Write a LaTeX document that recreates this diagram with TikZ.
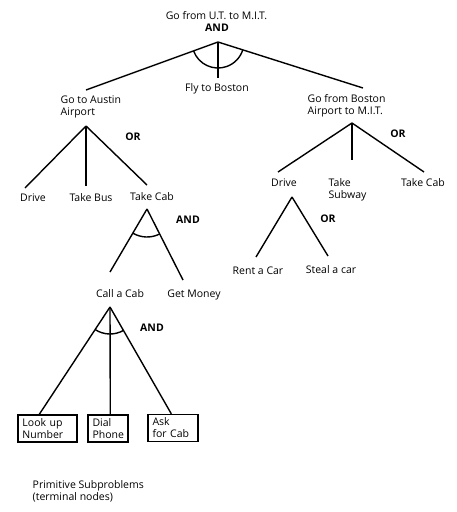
\documentclass[tikz,border=0pt]{standalone}
\usepackage{fontspec}
\setmainfont{Open Sans}
\usetikzlibrary{angles,calc}
\begin{document}
\begin{tikzpicture}[x=1pt,y=-1pt, line width=1.4pt,
  lbl/.style={inner sep=0pt, font=\fontsize{10.5}{12}\selectfont, anchor=base},
  lblL/.style={inner sep=0pt, font=\fontsize{10.5}{12}\selectfont, align=left, anchor=north west},
  gate/.style={lbl, font=\fontsize{10.5}{12}\selectfont\bfseries},
  leaf/.style={draw, line width=1.4pt, inner xsep=4.5pt, inner ysep=0pt, minimum height=27pt,
    font=\fontsize{10.5}{12}\selectfont, align=left, anchor=center},
  andarc/.style={draw, angle radius=26pt}
]
\useasboundingbox (0,0) rectangle (457,512);

% labels
\node[lbl] (root) at (216.5,19.5) {Go from U.T. to M.I.T.};
\node[gate] (rootand) at (217,31) {AND};
\node[lbl] (fly) at (217,91) {Fly to Boston};
\node[lblL] (austin) at (60,95.5) {Go to Austin\\Airport};
\node[lblL] (boston) at (307,93.5) {Go from Boston\\Airport to M.I.T.};
\node[gate] (aor) at (133,140) {OR};
\node[lbl] (drive) at (33,201) {Drive};
\node[lbl] (bus) at (91,201) {Take Bus};
\node[lbl] (cab) at (152,200) {Take Cab};
\node[gate] (cand) at (188,223) {AND};
\node[lbl] (call) at (120,297) {Call a Cab};
\node[lbl] (money) at (194,297) {Get Money};
\node[gate] (kand) at (152,331) {AND};
\node[leaf, text width=50pt] (lookup) at (47.5,428.5) {Look up\\Number};
\node[leaf, text width=31pt] (dial) at (108,428.5) {Dial\\Phone};
\node[leaf, text width=41pt] (ask) at (173,428) {Ask\\for Cab};
\node[lblL] (prim) at (32,479.5) {Primitive Subproblems\\(terminal nodes)};
\node[gate] (bor) at (398,137) {OR};
\node[lbl] (rdrive) at (284,186) {Drive};
\node[lblL] (subway) at (328,177.5) {Take\\Subway};
\node[lbl] (rcab) at (423,186) {Take Cab};
\node[gate] (dor) at (328,222) {OR};
\node[lbl] (rent) at (258,274) {Rent a Car};
\node[lbl] (steal) at (331,273) {Steal a car};

% connector points
\coordinate (r) at (218,42);
\coordinate (r1) at (86,90);
\coordinate (r2) at (218,78);
\coordinate (r3) at (363,88);
\coordinate (a) at (86,126);
\coordinate (a1) at (25,188);
\coordinate (a2) at (86,186);
\coordinate (a3) at (147,185);
\coordinate (c) at (147,209);
\coordinate (c1) at (110,272);
\coordinate (c2) at (183,280);
\coordinate (k) at (110,307);
\coordinate (k1) at ($(lookup.north west)+(22,0)$);
\coordinate (k2) at ($(dial.north west)+(23,0)$);
\coordinate (k3) at ($(ask.north west)+(24,0)$);
\coordinate (b) at (352,123);
\coordinate (b1) at (278,172);
\coordinate (b2) at (352,160);
\coordinate (b3) at (424,172);
\coordinate (d) at (292,197);
\coordinate (d1) at (256,257);
\coordinate (d2) at (328,256);

% connectors
\draw (r) -- (r1);
\draw (r) -- (r2);
\draw (r) -- (r3);
\pic[andarc] {angle = r1--r--r3};
\draw (a) -- (a1);
\draw (a) -- (a2);
\draw (a) -- (a3);
\draw (c) -- (c1);
\draw (c) -- (c2);
\pic[andarc, angle radius=28pt] {angle = c1--c--c2};
\draw (k) -- (k1);
\draw (k) -- (k2);
\draw (k) -- (k3);
\pic[andarc, angle radius=27pt] {angle = k1--k--k3};
\draw (b) -- (b1);
\draw (b) -- (b2);
\draw (b) -- (b3);
\draw (d) -- (d1);
\draw (d) -- (d2);
\end{tikzpicture}
\end{document}
